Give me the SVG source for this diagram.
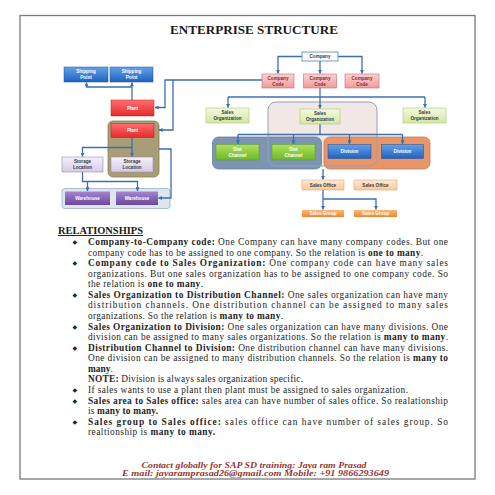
<svg xmlns="http://www.w3.org/2000/svg" width="495" height="495" viewBox="0 0 495 495">
<defs>
<style>
.conn{fill:none;stroke:#3b6fae;stroke-width:1.3}
.arr{marker-end:url(#ah)}
.lbl{font-family:"Liberation Sans",Arial,sans-serif;font-size:4.6px;font-weight:bold;text-anchor:middle}
.w{fill:#ffffff}
.d{fill:#3a3a3a}
.body{font-family:"Liberation Serif","Times New Roman",serif;font-size:9.4px;fill:#262626}
.b{font-weight:bold}
.bul{font-family:"DejaVu Sans",sans-serif;font-size:6px;fill:#222}
.foot{font-family:"Liberation Serif","Times New Roman",serif;font-size:8px;font-weight:bold;font-style:italic;fill:#943634;text-anchor:middle}
</style>
<marker id="ah" viewBox="0 0 6 6" refX="5.5" refY="3" markerWidth="4" markerHeight="4" markerUnits="userSpaceOnUse" orient="auto"><path d="M0,0 L6,3 L0,6 z" fill="#3b6fae"/></marker>
<linearGradient id="gBlue" x1="0" y1="0" x2="0" y2="1"><stop offset="0" stop-color="#63a2e6"/><stop offset="1" stop-color="#1f62c0"/></linearGradient>
<linearGradient id="gRed" x1="0" y1="0" x2="0" y2="1"><stop offset="0" stop-color="#ff7070"/><stop offset="1" stop-color="#e52a2a"/></linearGradient>
<linearGradient id="gPink" x1="0" y1="0" x2="0" y2="1"><stop offset="0" stop-color="#fbd3d3"/><stop offset="1" stop-color="#f09a9a"/></linearGradient>
<linearGradient id="gGreenL" x1="0" y1="0" x2="0" y2="1"><stop offset="0" stop-color="#f3f9df"/><stop offset="1" stop-color="#d3e8a4"/></linearGradient>
<linearGradient id="gGreen" x1="0" y1="0" x2="0" y2="1"><stop offset="0" stop-color="#b0e060"/><stop offset="1" stop-color="#6cb924"/></linearGradient>
<linearGradient id="gLav" x1="0" y1="0" x2="0" y2="1"><stop offset="0" stop-color="#f4f0f9"/><stop offset="1" stop-color="#d7cbe7"/></linearGradient>
<linearGradient id="gPurple" x1="0" y1="0" x2="0" y2="1"><stop offset="0" stop-color="#a684cf"/><stop offset="1" stop-color="#6c479c"/></linearGradient>
<linearGradient id="gPeach" x1="0" y1="0" x2="0" y2="1"><stop offset="0" stop-color="#feeadb"/><stop offset="1" stop-color="#f9c898"/></linearGradient>
<linearGradient id="gOrange" x1="0" y1="0" x2="0" y2="1"><stop offset="0" stop-color="#fcb677"/><stop offset="1" stop-color="#f08830"/></linearGradient>
</defs>

<rect x="20" y="15.5" width="455" height="463.5" fill="#ffffff" stroke="#7a7a7a" stroke-width="1.3"/>

<text x="254" y="33.5" font-family="Liberation Serif,'Times New Roman',serif" font-size="11.5" font-weight="bold" fill="#1a1a1a" text-anchor="middle" textLength="168" lengthAdjust="spacingAndGlyphs">ENTERPRISE STRUCTURE</text>

<g id="containers">
<rect x="268" y="102" width="109" height="64" rx="8" fill="#f3e7e5"/>
<rect x="212.5" y="137" width="109" height="32" rx="6" fill="#7d95b2" stroke="#6a809c" stroke-width="0.8"/>
<rect x="324" y="137" width="106" height="32" rx="6" fill="#e9956a" stroke="#c87a52" stroke-width="0.8"/>
<rect x="268" y="102" width="109" height="64" rx="8" fill="none" stroke="#8fa2ba" stroke-width="1"/>
<rect x="108" y="121" width="51" height="56" rx="5" fill="#a99d75" stroke="#8a7f5a" stroke-width="0.8"/>
<rect x="62" y="188.5" width="108" height="20" rx="3" fill="#dde5ef" stroke="#9aaec8" stroke-width="0.8"/>
</g>

<g id="connectors">
<path class="conn arr" d="M302,56.5 H278 V73.5"/>
<path class="conn arr" d="M338,56.5 H362 V73.5"/>
<path class="conn arr" d="M320,61 V73.5"/>
<path class="conn arr" d="M262,80 H165 V107.5 H155"/>
<path class="conn arr" d="M173,80 V130 H159"/>
<path class="conn arr" d="M320,88 V108.5"/>
<path class="conn" d="M228,97 H425"/>
<path class="conn arr" d="M228,97 V107.5"/>
<path class="conn arr" d="M425,97 V107.5"/>
<path class="conn" d="M320,124 V134.5"/>
<path class="conn" d="M238,134.5 H402.5"/>
<path class="conn arr" d="M238,134.5 V144"/>
<path class="conn arr" d="M293.5,134.5 V144"/>
<path class="conn arr" d="M349.5,134.5 V144"/>
<path class="conn arr" d="M402.5,134.5 V144"/>
<path class="conn arr" d="M323,169 V179.5"/>
<path class="conn arr" d="M323,190 V209.5"/>
<path class="conn arr" d="M323,199 H376 V209.5"/>
<path class="conn arr" d="M132,100 V82.5"/>
<path class="conn arr" d="M132,87 H86.5 V82.5"/>
<path class="conn arr" d="M132,137.5 V156.5"/>
<path class="conn arr" d="M132,147.5 H82.5 V156.5"/>
<path class="conn arr" d="M82.5,172 V181.5 H137.5 V191"/>
<path class="conn arr" d="M87.5,181.5 V191"/>
<path class="conn arr" d="M159,149 H171 V198 H158.5"/>
</g>

<g id="company"><rect x="302" y="52" width="36" height="9" fill="#ffffff" stroke="#4f81bd" stroke-width="0.8"/><text class="lbl d" x="320" y="58.3">Company</text></g>
<g id="cc1"><rect x="262" y="74" width="32" height="14" fill="url(#gPink)" stroke="#cf6a6a" stroke-width="0.6"/><text class="lbl" fill="#8a2a2a" x="278" y="80">Company</text><text class="lbl" fill="#8a2a2a" x="278" y="85.5">Code</text></g>
<g id="cc2"><rect x="303.5" y="74" width="33" height="14" fill="url(#gPink)" stroke="#cf6a6a" stroke-width="0.6"/><text class="lbl" fill="#8a2a2a" x="320" y="80">Company</text><text class="lbl" fill="#8a2a2a" x="320" y="85.5">Code</text></g>
<g id="cc3"><rect x="345" y="74" width="34" height="14" fill="url(#gPink)" stroke="#cf6a6a" stroke-width="0.6"/><text class="lbl" fill="#8a2a2a" x="362" y="80">Company</text><text class="lbl" fill="#8a2a2a" x="362" y="85.5">Code</text></g>

<g id="so1"><rect x="206" y="108" width="43" height="15" fill="url(#gGreenL)" stroke="#a8c870" stroke-width="0.6"/><text class="lbl d" x="227.5" y="114.2">Sales</text><text class="lbl d" x="227.5" y="119.8">Organization</text></g>
<g id="so2"><rect x="300" y="109" width="40" height="15" fill="url(#gGreenL)" stroke="#a8c870" stroke-width="0.6"/><text class="lbl d" x="320" y="115.2">Sales</text><text class="lbl d" x="320" y="120.8">Organization</text></g>
<g id="so3"><rect x="403" y="108" width="43" height="15" fill="url(#gGreenL)" stroke="#a8c870" stroke-width="0.6"/><text class="lbl d" x="424.5" y="114.2">Sales</text><text class="lbl d" x="424.5" y="119.8">Organization</text></g>

<g id="dc1"><rect x="216" y="144.5" width="43" height="15.5" fill="url(#gGreen)" stroke="#5e9c22" stroke-width="0.5"/><text class="lbl w" x="237.5" y="151">Dist</text><text class="lbl w" x="237.5" y="156.6">Channel</text></g>
<g id="dc2"><rect x="272" y="144.5" width="43" height="15.5" fill="url(#gGreen)" stroke="#5e9c22" stroke-width="0.5"/><text class="lbl w" x="293.5" y="151">Dist</text><text class="lbl w" x="293.5" y="156.6">Channel</text></g>
<g id="div1"><rect x="328" y="144.5" width="43" height="14" fill="url(#gBlue)" stroke="#1d4f96" stroke-width="0.5"/><text class="lbl w" x="349.5" y="153">Division</text></g>
<g id="div2"><rect x="381.5" y="144.5" width="42" height="14" fill="url(#gBlue)" stroke="#1d4f96" stroke-width="0.5"/><text class="lbl w" x="402.5" y="153">Division</text></g>

<g id="office1"><rect x="302" y="180" width="42" height="10" fill="url(#gPeach)" stroke="#eaa464" stroke-width="0.6"/><text class="lbl d" x="323" y="186.6">Sales Office</text></g>
<g id="office2"><rect x="354" y="180" width="43" height="10" fill="url(#gPeach)" stroke="#eaa464" stroke-width="0.6"/><text class="lbl d" x="375.5" y="186.6">Sales Office</text></g>
<g id="group1"><rect x="302" y="210" width="42" height="7" fill="url(#gOrange)"/><text class="lbl w" x="323" y="215.2">Sales Group</text></g>
<g id="group2"><rect x="354" y="210" width="43" height="7" fill="url(#gOrange)"/><text class="lbl w" x="375.5" y="215.2">Sales Group</text></g>

<g id="ship1"><rect x="64" y="67" width="44" height="15" fill="url(#gBlue)" stroke="#1d4f96" stroke-width="0.5"/><text class="lbl w" x="86" y="73.3">Shipping</text><text class="lbl w" x="86" y="78.9">Point</text></g>
<g id="ship2"><rect x="110" y="67" width="43" height="15" fill="url(#gBlue)" stroke="#1d4f96" stroke-width="0.5"/><text class="lbl w" x="131.5" y="73.3">Shipping</text><text class="lbl w" x="131.5" y="78.9">Point</text></g>
<g id="plant1"><rect x="111" y="100" width="43" height="16" fill="url(#gRed)" stroke="#c01c1c" stroke-width="0.5"/><text class="lbl w" x="132.5" y="109.6">Plant</text></g>
<g id="plant2"><rect x="111" y="123.5" width="43" height="14" fill="url(#gRed)" stroke="#c01c1c" stroke-width="0.5"/><text class="lbl w" x="132.5" y="132.2">Plant</text></g>
<g id="sl1"><rect x="62" y="157" width="41" height="15" fill="url(#gLav)" stroke="#9a86b8" stroke-width="0.6"/><text class="lbl d" x="82.5" y="163.2">Storage</text><text class="lbl d" x="82.5" y="168.8">Location</text></g>
<g id="sl2"><rect x="111" y="157" width="42" height="15" fill="url(#gLav)" stroke="#9a86b8" stroke-width="0.6"/><text class="lbl d" x="132" y="163.2">Storage</text><text class="lbl d" x="132" y="168.8">Location</text></g>
<g id="wh1"><rect x="65" y="191.5" width="45" height="13.5" fill="url(#gPurple)"/><text class="lbl w" x="87.5" y="199.8">Warehouse</text></g>
<g id="wh2"><rect x="116" y="191.5" width="42" height="13.5" fill="url(#gPurple)"/><text class="lbl w" x="137" y="199.8">Warehouse</text></g>

<g id="relationships">
<text x="58" y="234" font-family="Liberation Serif,'Times New Roman',serif" font-size="9.5" font-weight="bold" fill="#1a1a1a" text-decoration="underline" textLength="85" lengthAdjust="spacingAndGlyphs">RELATIONSHIPS</text>
<text class="bul" x="72.5" y="244">◆</text>
<text class="bul" x="72.5" y="265.1">◆</text>
<text class="bul" x="72.5" y="296.8">◆</text>
<text class="bul" x="72.5" y="328.5">◆</text>
<text class="bul" x="72.5" y="349.7">◆</text>
<text class="bul" x="72.5" y="392">◆</text>
<text class="bul" x="72.5" y="402.5">◆</text>
<text class="bul" x="72.5" y="423.7">◆</text>
<text class="body" x="88" y="245" textLength="360" lengthAdjust="spacing"><tspan class="b">Company-to-Company code:</tspan> One Company can have many company codes. But one</text>
<text class="body" x="88" y="255.6" textLength="335" lengthAdjust="spacing">company code has to be assigned to one company. So the relation is <tspan class="b">one to many</tspan>.</text>
<text class="body" x="88" y="266.1" textLength="360" lengthAdjust="spacing"><tspan class="b">Company code to Sales Organization:</tspan> One company code can have many sales</text>
<text class="body" x="88" y="276.7" textLength="360" lengthAdjust="spacing">organizations. But one sales organization has to be assigned to one company code. So</text>
<text class="body" x="88" y="287.3" textLength="115" lengthAdjust="spacing">the relation is <tspan class="b">one to many</tspan>.</text>
<text class="body" x="88" y="297.8" textLength="360" lengthAdjust="spacing"><tspan class="b">Sales Organization to Distribution Channel:</tspan> One sales organization can have many</text>
<text class="body" x="88" y="308.4" textLength="360" lengthAdjust="spacing">distribution channels. One distribution channel can be assigned to many sales</text>
<text class="body" x="88" y="319" textLength="195" lengthAdjust="spacing">organizations. So the relation is <tspan class="b">many to many</tspan>.</text>
<text class="body" x="88" y="329.6" textLength="360" lengthAdjust="spacing"><tspan class="b">Sales Organization to Division:</tspan> One sales organization can have many divisions. One</text>
<text class="body" x="88" y="340.1" textLength="360" lengthAdjust="spacing">division can be assigned to many sales organizations. So the relation is <tspan class="b">many to many</tspan>.</text>
<text class="body" x="88" y="350.7" textLength="360" lengthAdjust="spacing"><tspan class="b">Distribution Channel to Division:</tspan> One distribution channel can have many divisions.</text>
<text class="body" x="88" y="361.3" textLength="360" lengthAdjust="spacing">One division can be assigned to many distribution channels. So the relation is <tspan class="b">many to</tspan></text>
<text class="body" x="88" y="371.8"><tspan class="b">many</tspan>.</text>
<text class="body" x="88" y="382.4" textLength="215" lengthAdjust="spacing"><tspan class="b">NOTE:</tspan> Division is always sales organization specific.</text>
<text class="body" x="88" y="393" textLength="320" lengthAdjust="spacing">If sales wants to use a plant then plant must be assigned to sales organization.</text>
<text class="body" x="88" y="403.6" textLength="360" lengthAdjust="spacing"><tspan class="b">Sales area to Sales office:</tspan> sales area can have number of sales office. So realationship</text>
<text class="body" x="88" y="414.1" textLength="70" lengthAdjust="spacing">is <tspan class="b">many to many.</tspan></text>
<text class="body" x="88" y="424.7" textLength="360" lengthAdjust="spacing"><tspan class="b">Sales group to Sales office:</tspan> sales office can have number of sales group. So</text>
<text class="body" x="88" y="435.3" textLength="127" lengthAdjust="spacing">realtionship is <tspan class="b">many to many.</tspan></text>
</g>

<g id="footer">
<text class="foot" x="254" y="467.5" textLength="225" lengthAdjust="spacingAndGlyphs">Contact globally for SAP SD training:  Jaya ram Prasad</text>
<text class="foot" x="255.5" y="476" textLength="267" lengthAdjust="spacingAndGlyphs">E mail: jayaramprasad26@gmail.com  Mobile: +91 9866293649</text>
</g>
</svg>
